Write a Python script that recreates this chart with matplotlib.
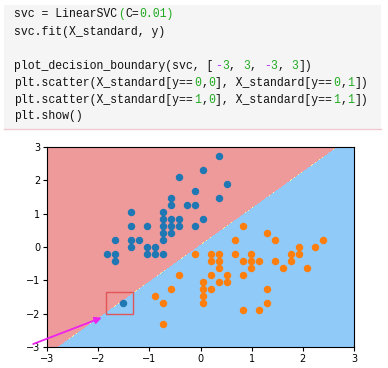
import numpy as np
import matplotlib
matplotlib.use("Agg")
from matplotlib import pyplot as plt
from matplotlib.colors import ListedColormap
from matplotlib.patches import Rectangle

# standardized points (first two features), class 0
class0_x = [-1.83, -1.68, -1.68, -1.68, -1.52, -1.36, -1.36, -1.36, -1.36, -1.21,
            -1.05, -1.05, -1.05, -0.89, -0.89, -0.74, -0.74, -0.74, -0.74, -0.74,
            -0.74, -0.58, -0.58, -0.58, -0.58, -0.58, -0.42, -0.42, -0.42, -0.27,
            -0.11, -0.11, -0.11, 0.05, 0.05, 0.36, 0.36, 0.52]
class0_y = [-0.21, -0.42, -0.21, 0.21, -1.68, 0.00, 0.21, 0.63, 1.05, 0.21,
            -0.21, 0.00, 0.63, -0.21, 0.00, -0.21, 0.21, 0.42, 0.63, 0.84,
            1.05, 0.42, 0.63, 0.84, 1.26, 1.47, 0.63, 0.84, 2.10, 1.26,
            0.63, 1.26, 1.68, 0.84, 2.31, 1.47, 2.73, 1.89]

# class 1
class1_x = [-0.89, -0.74, -0.74, -0.58, -0.42, -0.11, 0.05, 0.05, 0.05, 0.05,
            0.20, 0.20, 0.20, 0.20, 0.36, 0.36, 0.36, 0.36, 0.52, 0.52,
            0.67, 0.67, 0.83, 0.83, 0.83, 0.83, 0.99, 0.99, 0.99, 1.14,
            1.14, 1.30, 1.30, 1.30, 1.46, 1.46, 1.61, 1.77, 1.77, 1.93,
            1.93, 2.08, 2.24, 2.40]
class1_y = [-1.47, -2.31, -1.68, -1.26, -0.84, -0.21, -1.68, -1.47, -1.26, -1.05,
            -1.26, -0.84, -0.42, -0.21, -1.05, -0.63, -0.42, -0.21, -1.05, -0.84,
            -0.21, 0.21, -1.89, -0.84, -0.42, 0.63, -0.63, -0.42, -0.21, -1.89,
            -0.42, -1.68, -1.26, 0.42, -0.42, 0.21, -0.63, -0.42, -0.21, -0.21,
            0.00, -0.63, 0.00, 0.21]

# decision boundary (where it meets bottom / top edge)
boundary_x = [-2.77, 2.69]
boundary_y = [-3.0, 3.0]

# code cell text, split into coloured pieces
code_lines = [
    [("svc = LinearSVC", "k"), ("(", "g"), ("C=", "k"), ("0.01)", "g")],
    [("svc.fit(X_standard, y)", "k")],
    [],
    [("plot_decision_boundary(svc, [", "k"), ("-", "p"), ("3", "g"), (", ", "k"),
     ("3", "g"), (", ", "k"), ("-", "p"), ("3", "g"), (", ", "k"), ("3", "g"), ("])", "k")],
    [("plt.scatter(X_standard[y==", "k"), ("0", "g"), (",", "k"), ("0", "g"),
     ("], X_standard[y==", "k"), ("0", "g"), (",", "k"), ("1", "g"), ("])", "k")],
    [("plt.scatter(X_standard[y==", "k"), ("1", "g"), (",", "k"), ("0", "g"),
     ("], X_standard[y==", "k"), ("1", "g"), (",", "k"), ("1", "g"), ("])", "k")],
    [("plt.show()", "k")],
]
code_colors = {"k": "#111111", "g": "#22aa22", "p": "#aa22ff"}

W, H = 388, 368
fig = plt.figure(figsize=(W / 100, H / 100), dpi=100)

# code box
fig.patches.append(Rectangle((4 / W, 1 - 129 / H), 377 / W, 124 / H,
                             transform=fig.transFigure, facecolor="#f5f5f5",
                             edgecolor="none", zorder=0))
fig.lines.append(plt.Line2D([4 / W, 381 / W], [1 - 129 / H, 1 - 129 / H],
                            transform=fig.transFigure, color="#f0c8d0", lw=1))

char_w = 6.94
line_y = [14, 32, 49, 66, 83, 100, 116]
for row, pieces in enumerate(code_lines):
    col = 0
    for txt, c in pieces:
        fig.text((14 + col * char_w) / W, 1 - line_y[row] / H, txt,
                 family="Liberation Mono", fontsize=8.3, color=code_colors[c],
                 va="center", ha="left")
        col += len(txt)

ax = fig.add_axes([47 / W, 21 / H, 307 / W, 200 / H])

# plot_decision_boundary-like background
x0, x1 = np.meshgrid(np.linspace(-3, 3, 600), np.linspace(-3, 3, 600))
dx = boundary_x[1] - boundary_x[0]
dy = boundary_y[1] - boundary_y[0]
zz = ((x1 - boundary_y[0]) * dx - (x0 - boundary_x[0]) * dy < 0).astype(int)
custom_cmap = ListedColormap(['#EF9A9A', '#FFF59D', '#90CAF9'])
ax.contourf(x0, x1, zz, cmap=custom_cmap)

ax.scatter(class0_x, class0_y, s=19, color="#1f77b4", zorder=3)
ax.scatter(class1_x, class1_y, s=19, color="#ff7f0e", zorder=3)

ax.set_xlim(-3, 3)
ax.set_ylim(-3, 3)
ax.set_xticks(range(-3, 4))
ax.set_yticks(range(-3, 4))
ax.tick_params(labelsize=7, length=3, width=0.8, pad=2)

# red box round the misclassified-looking point and the magenta arrow
ax.add_patch(Rectangle((-1.85, -2.01), 0.54, 0.66, fill=False,
                       edgecolor="#e05555", lw=1, zorder=4))
ax.annotate("", xy=(-1.93, -2.12), xytext=(-3.27, -2.91),
            annotation_clip=False,
            arrowprops=dict(arrowstyle="-|>", color="#ee22ee", lw=1.3,
                            mutation_scale=10, shrinkA=0, shrinkB=0))

fig.savefig("out.png", dpi=100)
